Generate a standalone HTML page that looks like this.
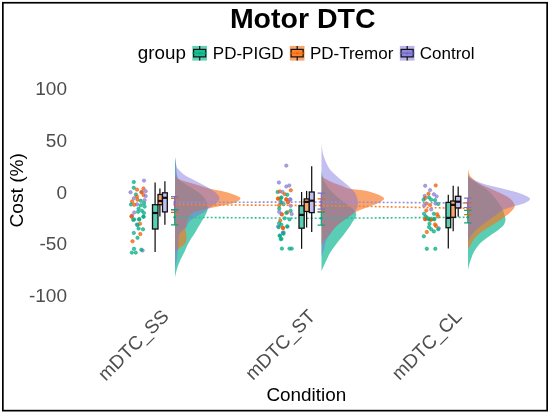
<!DOCTYPE html>
<html><head><meta charset="utf-8"><title>Motor DTC</title>
<style>
html,body{margin:0;padding:0;background:#fff;}
body{width:550px;height:415px;overflow:hidden;}
svg{display:block;font-family:"Liberation Sans",Arial,Helvetica,sans-serif;}
</style></head><body>
<svg width="550" height="415" viewBox="0 0 550 415">
<rect x="0" y="0" width="550" height="415" fill="#ffffff"/>
<rect x="2.85" y="2.75" width="544.3" height="407.9" fill="none" stroke="#000" stroke-width="1.7"/>

<text x="302.7" y="28.1" text-anchor="middle" font-size="28.5" font-weight="bold" fill="#000">Motor DTC</text>
<text x="137.8" y="59" font-size="18.8" fill="#000">group</text>
<g><rect x="192.3" y="45.9" width="14.7" height="14.7" fill="#62D2B6"/><line x1="199.7" y1="45.9" x2="199.7" y2="60.6" stroke="#111" stroke-width="1.2"/><rect x="193.6" y="49.4" width="12.1" height="7.5" fill="#1CBE96" stroke="#111" stroke-width="1.2"/><line x1="192.3" y1="53.2" x2="207.0" y2="53.2" stroke="#0AAA82" stroke-width="1.1"/><circle cx="199.7" cy="53.2" r="1.2" fill="#0AAA82"/></g>
<text x="212.8" y="59" font-size="17" fill="#000">PD-PIGD</text>
<g><rect x="289.8" y="45.9" width="14.7" height="14.7" fill="#FAA56E"/><line x1="297.2" y1="45.9" x2="297.2" y2="60.6" stroke="#111" stroke-width="1.2"/><rect x="291.1" y="49.4" width="12.1" height="7.5" fill="#FA852D" stroke="#111" stroke-width="1.2"/><line x1="289.8" y1="53.2" x2="304.5" y2="53.2" stroke="#F56405" stroke-width="1.1"/><circle cx="297.2" cy="53.2" r="1.2" fill="#F56405"/></g>
<text x="309.9" y="59" font-size="17" fill="#000">PD-Tremor</text>
<g><rect x="399.8" y="45.9" width="14.7" height="14.7" fill="#BAB5EA"/><line x1="407.2" y1="45.9" x2="407.2" y2="60.6" stroke="#111" stroke-width="1.2"/><rect x="401.1" y="49.4" width="12.1" height="7.5" fill="#8E86D8" stroke="#111" stroke-width="1.2"/><line x1="399.8" y1="53.2" x2="414.5" y2="53.2" stroke="#6E66C8" stroke-width="1.1"/><circle cx="407.2" cy="53.2" r="1.2" fill="#6E66C8"/></g>
<text x="419.8" y="59" font-size="17" fill="#000">Control</text>
<text x="67" y="94.8" text-anchor="end" font-size="19" fill="#4D4D4D">100</text>
<text x="67" y="146.8" text-anchor="end" font-size="19" fill="#4D4D4D">50</text>
<text x="67" y="198.5" text-anchor="end" font-size="19" fill="#4D4D4D">0</text>
<text x="67" y="250.4" text-anchor="end" font-size="19" fill="#4D4D4D">-50</text>
<text x="67" y="302.2" text-anchor="end" font-size="19" fill="#4D4D4D">-100</text>
<text transform="translate(23.2,190.3) rotate(-90)" text-anchor="middle" font-size="19.2" fill="#000">Cost (%)</text>
<text x="306.3" y="400.5" text-anchor="middle" font-size="18.9" fill="#000">Condition</text>
<text transform="translate(170.0,317.5) rotate(-45)" text-anchor="end" font-size="19" fill="#4D4D4D">mDTC_SS</text>
<text transform="translate(316.5,317.5) rotate(-45)" text-anchor="end" font-size="19" fill="#4D4D4D">mDTC_ST</text>
<text transform="translate(463.0,317.5) rotate(-45)" text-anchor="end" font-size="19" fill="#4D4D4D">mDTC_CL</text>
<g>
<path d="M175.0 157.0 L175.0 157.0 L175.1 157.8 L175.2 158.5 L175.3 159.2 L175.4 160.0 L175.5 160.8 L175.6 161.5 L175.7 162.2 L175.8 163.0 L175.9 163.8 L176.0 164.5 L176.0 165.2 L176.1 166.0 L176.1 166.8 L176.2 167.5 L176.2 168.2 L176.3 169.0 L176.3 169.8 L176.4 170.5 L176.4 171.2 L176.5 172.0 L176.6 172.8 L176.7 173.5 L176.8 174.2 L176.9 175.0 L177.1 175.8 L177.3 176.5 L177.5 177.2 L177.7 178.0 L178.0 178.8 L178.6 179.5 L179.5 180.2 L180.5 181.0 L181.6 181.8 L182.7 182.5 L183.9 183.2 L185.1 184.0 L186.4 184.8 L187.7 185.5 L188.9 186.2 L190.1 187.0 L191.4 187.8 L192.6 188.5 L193.8 189.2 L195.0 190.0 L196.1 190.8 L197.2 191.5 L198.3 192.2 L199.3 193.0 L200.3 193.8 L201.3 194.5 L202.1 195.2 L202.8 196.0 L203.4 196.8 L204.0 197.5 L204.5 198.2 L205.0 199.0 L205.4 199.8 L205.8 200.5 L206.1 201.2 L206.4 202.0 L206.8 202.8 L207.1 203.5 L207.3 204.2 L207.5 205.0 L207.7 205.8 L207.7 206.5 L207.7 207.2 L207.7 208.0 L207.6 208.8 L207.5 209.5 L207.5 210.2 L207.2 211.0 L206.9 211.8 L206.6 212.5 L206.3 213.2 L205.9 214.0 L205.6 214.8 L205.2 215.5 L204.8 216.2 L204.4 217.0 L203.9 217.8 L203.5 218.5 L203.1 219.2 L202.6 220.0 L202.1 220.8 L201.6 221.5 L201.2 222.2 L200.7 223.0 L200.3 223.8 L199.8 224.5 L199.4 225.2 L198.9 226.0 L198.5 226.8 L198.0 227.5 L197.6 228.2 L197.1 229.0 L196.7 229.8 L196.3 230.5 L195.9 231.2 L195.5 232.0 L195.0 232.8 L194.6 233.5 L194.1 234.2 L193.6 235.0 L193.1 235.8 L192.5 236.5 L192.0 237.2 L191.5 238.0 L191.0 238.8 L190.6 239.5 L190.1 240.2 L189.7 241.0 L189.3 241.8 L188.8 242.5 L188.4 243.2 L188.0 244.0 L187.7 244.8 L187.3 245.5 L187.0 246.2 L186.6 247.0 L186.3 247.8 L186.0 248.5 L185.6 249.2 L185.3 250.0 L185.0 250.8 L184.6 251.5 L184.3 252.2 L183.9 253.0 L183.5 253.8 L183.1 254.5 L182.7 255.2 L182.4 256.0 L182.0 256.8 L181.6 257.5 L181.2 258.2 L180.8 259.0 L180.5 259.8 L180.1 260.5 L179.8 261.2 L179.5 262.0 L179.2 262.8 L178.9 263.5 L178.6 264.2 L178.3 265.0 L178.1 265.8 L177.8 266.5 L177.5 267.2 L177.3 268.0 L177.1 268.8 L176.9 269.5 L176.6 270.2 L176.4 271.0 L176.2 271.8 L176.1 272.5 L175.9 273.2 L175.7 274.0 L175.5 274.8 L175.4 275.5 L175.2 276.2 L175.1 277.0 L175.0 277.5 Z" fill="#00B48C" fill-opacity="0.65"/>
<path d="M175.0 176.0 L175.0 176.0 L175.5 176.8 L176.4 177.5 L177.4 178.2 L178.7 179.0 L180.4 179.8 L182.3 180.5 L184.7 181.2 L187.3 182.0 L189.9 182.8 L192.5 183.5 L195.1 184.2 L197.6 185.0 L200.0 185.8 L202.4 186.5 L204.8 187.2 L207.2 188.0 L209.8 188.8 L213.3 189.5 L217.6 190.2 L221.6 191.0 L224.7 191.8 L227.6 192.5 L230.1 193.2 L232.2 194.0 L234.1 194.8 L236.1 195.5 L237.8 196.2 L239.3 197.0 L240.2 197.8 L240.5 198.5 L240.2 199.2 L239.6 200.0 L238.6 200.8 L237.3 201.5 L235.9 202.2 L234.2 203.0 L231.3 203.8 L227.6 204.5 L223.7 205.2 L220.2 206.0 L216.7 206.8 L213.2 207.5 L209.7 208.2 L206.2 209.0 L203.0 209.8 L200.2 210.5 L197.7 211.2 L195.6 212.0 L193.6 212.8 L192.1 213.5 L191.3 214.2 L190.5 215.0 L190.0 215.8 L189.5 216.5 L189.0 217.2 L188.6 218.0 L188.2 218.8 L187.9 219.5 L187.6 220.2 L187.3 221.0 L187.1 221.8 L186.9 222.5 L186.7 223.2 L186.5 224.0 L186.3 224.8 L186.1 225.5 L185.8 226.2 L185.6 227.0 L185.4 227.8 L185.2 228.5 L185.2 229.2 L185.3 230.0 L185.5 230.8 L185.7 231.5 L185.9 232.2 L186.1 233.0 L186.2 233.8 L186.3 234.5 L186.4 235.2 L186.4 236.0 L186.5 236.8 L186.5 237.5 L186.5 238.2 L186.5 239.0 L186.4 239.8 L186.2 240.5 L186.0 241.2 L185.8 242.0 L185.6 242.8 L185.2 243.5 L184.6 244.2 L183.7 245.0 L182.7 245.8 L181.6 246.5 L180.7 247.2 L179.7 248.0 L178.6 248.8 L177.6 249.5 L176.7 250.2 L175.9 251.0 L175.2 251.8 L175.0 252.0 Z" fill="#F87520" fill-opacity="0.65"/>
<path d="M175.0 157.0 L175.0 157.0 L175.1 157.8 L175.2 158.5 L175.3 159.2 L175.5 160.0 L175.6 160.8 L175.7 161.5 L175.8 162.2 L176.0 163.0 L176.1 163.8 L176.2 164.5 L176.3 165.2 L176.5 166.0 L176.7 166.8 L177.0 167.5 L177.4 168.2 L178.1 169.0 L178.8 169.8 L179.5 170.5 L180.2 171.2 L181.0 172.0 L181.8 172.8 L182.6 173.5 L183.6 174.2 L184.6 175.0 L185.7 175.8 L187.0 176.5 L188.5 177.2 L190.0 178.0 L191.5 178.8 L193.0 179.5 L194.4 180.2 L195.9 181.0 L197.3 181.8 L198.7 182.5 L200.2 183.2 L201.6 184.0 L203.0 184.8 L204.4 185.5 L205.8 186.2 L207.2 187.0 L208.5 187.8 L209.8 188.5 L211.0 189.2 L212.1 190.0 L213.3 190.8 L214.4 191.5 L215.4 192.2 L216.2 193.0 L216.9 193.8 L217.5 194.5 L218.2 195.2 L218.7 196.0 L219.1 196.8 L219.4 197.5 L219.5 198.2 L219.4 199.0 L219.1 199.8 L218.6 200.5 L218.1 201.2 L217.4 202.0 L216.7 202.8 L216.0 203.5 L215.1 204.2 L214.0 205.0 L212.7 205.8 L211.4 206.5 L210.1 207.2 L209.0 208.0 L208.1 208.8 L207.2 209.5 L206.4 210.2 L205.5 211.0 L204.6 211.8 L203.6 212.5 L202.3 213.2 L201.0 214.0 L199.5 214.8 L198.1 215.5 L196.7 216.2 L195.5 217.0 L194.3 217.8 L193.3 218.5 L192.2 219.2 L191.2 220.0 L190.2 220.8 L189.4 221.5 L188.7 222.2 L188.2 223.0 L187.8 223.8 L187.6 224.5 L187.3 225.2 L187.0 226.0 L186.6 226.8 L186.0 227.5 L185.3 228.2 L184.4 229.0 L183.4 229.8 L182.5 230.5 L181.6 231.2 L180.9 232.0 L180.3 232.8 L179.7 233.5 L179.2 234.2 L178.9 235.0 L178.8 235.8 L178.7 236.5 L178.7 237.2 L178.6 238.0 L178.6 238.8 L178.6 239.5 L178.5 240.2 L178.5 241.0 L178.5 241.8 L178.5 242.5 L178.4 243.2 L178.4 244.0 L178.3 244.8 L178.3 245.5 L178.2 246.2 L178.1 247.0 L178.1 247.8 L178.0 248.5 L177.9 249.2 L177.8 250.0 L177.7 250.8 L177.7 251.5 L177.6 252.2 L177.5 253.0 L177.5 253.8 L177.4 254.5 L177.3 255.2 L177.2 256.0 L177.2 256.8 L177.1 257.5 L177.0 258.2 L176.9 259.0 L176.8 259.8 L176.7 260.5 L176.6 261.2 L176.4 262.0 L176.3 262.8 L176.1 263.5 L175.9 264.2 L175.7 265.0 L175.5 265.8 L175.3 266.5 L175.0 267.2 L175.0 267.3 Z" fill="#786EDC" fill-opacity="0.45"/>
</g>
<g>
<path d="M321.5 169.6 L321.5 169.6 L321.5 170.3 L321.6 171.1 L321.7 171.8 L321.8 172.6 L321.9 173.3 L322.0 174.1 L322.2 174.8 L322.4 175.6 L322.6 176.3 L322.8 177.1 L323.0 177.8 L323.2 178.6 L323.4 179.3 L323.7 180.1 L324.1 180.8 L324.4 181.6 L324.8 182.3 L325.2 183.1 L325.7 183.8 L326.1 184.6 L326.6 185.3 L327.1 186.1 L327.6 186.8 L328.1 187.6 L328.7 188.3 L329.4 189.1 L330.0 189.8 L330.7 190.6 L331.4 191.3 L332.1 192.1 L332.9 192.8 L333.6 193.6 L334.4 194.3 L335.2 195.1 L336.0 195.8 L336.9 196.6 L337.8 197.3 L338.7 198.1 L339.6 198.8 L340.5 199.6 L341.4 200.3 L342.4 201.1 L343.4 201.8 L344.4 202.6 L345.4 203.3 L346.5 204.1 L347.5 204.8 L348.5 205.6 L349.5 206.3 L350.5 207.1 L351.6 207.8 L352.6 208.6 L353.4 209.3 L354.1 210.1 L354.6 210.8 L355.1 211.6 L355.6 212.3 L356.0 213.1 L356.2 213.8 L356.2 214.6 L356.1 215.3 L355.9 216.1 L355.7 216.8 L355.3 217.6 L354.9 218.3 L354.5 219.1 L354.0 219.8 L353.5 220.6 L353.0 221.3 L352.5 222.1 L352.0 222.8 L351.6 223.6 L351.1 224.3 L350.7 225.1 L350.2 225.8 L349.7 226.6 L349.2 227.3 L348.7 228.1 L348.1 228.8 L347.6 229.6 L347.0 230.3 L346.5 231.1 L345.9 231.8 L345.4 232.6 L344.8 233.3 L344.2 234.1 L343.7 234.8 L343.1 235.6 L342.5 236.3 L341.9 237.1 L341.3 237.8 L340.7 238.6 L340.0 239.3 L339.4 240.1 L338.8 240.8 L338.2 241.6 L337.6 242.3 L337.1 243.1 L336.5 243.8 L335.9 244.6 L335.4 245.3 L334.8 246.1 L334.3 246.8 L333.7 247.6 L333.2 248.3 L332.6 249.1 L332.1 249.8 L331.6 250.6 L331.1 251.3 L330.6 252.1 L330.2 252.8 L329.7 253.6 L329.3 254.3 L328.9 255.1 L328.5 255.8 L328.2 256.6 L327.8 257.4 L327.4 258.1 L327.1 258.9 L326.7 259.6 L326.4 260.4 L326.0 261.1 L325.7 261.9 L325.3 262.6 L325.0 263.4 L324.6 264.1 L324.3 264.9 L323.9 265.6 L323.6 266.4 L323.2 267.1 L322.9 267.9 L322.6 268.6 L322.2 269.4 L321.9 270.1 L321.6 270.9 L321.5 271.0 Z" fill="#00B48C" fill-opacity="0.65"/>
<path d="M321.5 176.3 L321.5 176.3 L322.5 177.1 L323.6 177.8 L324.8 178.6 L326.1 179.3 L327.5 180.1 L329.0 180.8 L330.5 181.6 L332.1 182.3 L333.9 183.1 L335.9 183.8 L338.0 184.6 L340.1 185.3 L342.1 186.1 L343.9 186.8 L345.5 187.6 L347.5 188.3 L350.6 189.1 L358.2 189.8 L364.4 190.6 L367.9 191.3 L370.7 192.1 L373.0 192.8 L375.2 193.6 L377.2 194.3 L379.1 195.1 L380.7 195.8 L381.9 196.6 L383.1 197.3 L383.9 198.1 L384.2 198.8 L383.8 199.6 L382.9 200.3 L381.9 201.1 L380.8 201.8 L379.5 202.6 L378.0 203.3 L376.3 204.1 L374.3 204.8 L372.3 205.6 L370.2 206.3 L368.1 207.1 L366.1 207.8 L364.1 208.6 L362.0 209.3 L360.1 210.1 L358.4 210.8 L356.9 211.6 L355.4 212.3 L354.1 213.1 L352.8 213.8 L351.6 214.6 L350.5 215.3 L349.5 216.1 L348.4 216.8 L347.4 217.6 L346.4 218.3 L345.4 219.1 L344.4 219.8 L343.3 220.6 L342.3 221.3 L341.3 222.1 L340.3 222.8 L339.3 223.6 L338.4 224.3 L337.6 225.1 L336.8 225.8 L336.0 226.6 L335.3 227.3 L334.6 228.1 L333.9 228.8 L333.3 229.6 L332.7 230.3 L332.1 231.1 L331.5 231.8 L330.9 232.6 L330.4 233.3 L329.8 234.1 L329.1 234.8 L328.5 235.6 L327.9 236.3 L327.3 237.1 L326.7 237.8 L326.1 238.6 L325.5 239.3 L324.9 240.1 L324.3 240.8 L323.8 241.6 L323.2 242.3 L322.7 243.1 L322.2 243.8 L321.8 244.6 L321.5 245.0 Z" fill="#F87520" fill-opacity="0.65"/>
<path d="M321.5 142.6 L321.5 142.6 L321.5 143.3 L321.6 144.1 L321.6 144.8 L321.7 145.6 L321.8 146.3 L321.9 147.1 L322.0 147.8 L322.1 148.6 L322.2 149.3 L322.3 150.1 L322.4 150.8 L322.5 151.6 L322.7 152.3 L322.8 153.1 L323.0 153.8 L323.2 154.6 L323.4 155.3 L323.7 156.1 L323.9 156.8 L324.2 157.6 L324.5 158.3 L324.7 159.1 L325.0 159.8 L325.3 160.6 L325.6 161.3 L325.9 162.1 L326.2 162.8 L326.6 163.6 L326.9 164.3 L327.3 165.1 L327.7 165.8 L328.1 166.6 L328.5 167.3 L329.0 168.1 L329.5 168.8 L330.0 169.6 L330.7 170.3 L331.3 171.1 L332.0 171.8 L332.8 172.6 L333.6 173.3 L334.4 174.1 L335.2 174.8 L336.0 175.6 L336.9 176.3 L337.7 177.1 L338.5 177.8 L339.4 178.6 L340.3 179.3 L341.3 180.1 L342.2 180.8 L343.2 181.6 L344.1 182.3 L345.0 183.1 L345.9 183.8 L346.8 184.6 L347.6 185.3 L348.4 186.1 L349.2 186.8 L350.0 187.6 L350.8 188.3 L351.6 189.1 L352.4 189.8 L353.1 190.6 L353.7 191.3 L354.3 192.1 L354.9 192.8 L355.3 193.6 L355.7 194.3 L356.0 195.1 L356.3 195.8 L356.6 196.6 L356.9 197.3 L357.2 198.1 L357.4 198.8 L357.6 199.6 L357.8 200.3 L357.9 201.1 L358.0 201.8 L358.0 202.6 L358.0 203.3 L357.9 204.1 L357.8 204.8 L357.7 205.6 L357.6 206.3 L357.5 207.1 L357.2 207.8 L356.9 208.6 L356.4 209.3 L355.9 210.1 L355.4 210.8 L354.9 211.6 L354.3 212.3 L353.7 213.1 L353.0 213.8 L352.2 214.6 L351.3 215.3 L350.2 216.1 L349.1 216.8 L348.0 217.6 L346.9 218.3 L345.9 219.1 L344.8 219.8 L343.7 220.6 L342.7 221.3 L341.6 222.1 L340.6 222.8 L339.7 223.6 L338.8 224.3 L337.9 225.1 L337.1 225.8 L336.3 226.6 L335.6 227.3 L334.8 228.1 L334.2 228.8 L333.5 229.6 L332.9 230.3 L332.4 231.1 L331.8 231.8 L331.3 232.6 L330.7 233.3 L330.2 234.1 L329.6 234.8 L329.1 235.6 L328.5 236.3 L328.0 237.1 L327.6 237.8 L327.2 238.6 L326.8 239.3 L326.4 240.1 L326.1 240.8 L325.9 241.6 L325.7 242.3 L325.5 243.1 L325.3 243.8 L325.1 244.6 L324.9 245.3 L324.7 246.1 L324.5 246.8 L324.4 247.6 L324.2 248.3 L324.0 249.1 L323.8 249.8 L323.5 250.6 L323.3 251.3 L323.1 252.1 L322.8 252.8 L322.6 253.6 L322.3 254.3 L322.1 255.1 L321.8 255.8 L321.5 256.6 L321.5 256.7 Z" fill="#786EDC" fill-opacity="0.45"/>
</g>
<g>
<path d="M468.0 175.0 L468.0 175.0 L468.3 175.8 L468.8 176.5 L469.3 177.2 L469.9 178.0 L470.6 178.8 L471.3 179.5 L472.3 180.2 L473.4 181.0 L474.6 181.8 L475.9 182.5 L477.2 183.2 L478.4 184.0 L479.6 184.8 L480.7 185.5 L481.8 186.2 L482.9 187.0 L484.0 187.8 L485.1 188.5 L486.2 189.2 L487.2 190.0 L488.2 190.8 L489.1 191.5 L489.9 192.2 L490.6 193.0 L491.3 193.8 L492.0 194.5 L492.7 195.2 L493.3 196.0 L493.9 196.8 L494.5 197.5 L495.1 198.2 L495.6 199.0 L496.2 199.8 L496.8 200.5 L497.3 201.2 L497.9 202.0 L498.4 202.8 L499.0 203.5 L499.6 204.2 L500.1 205.0 L500.6 205.8 L501.1 206.5 L501.6 207.2 L502.0 208.0 L502.4 208.8 L502.7 209.5 L503.0 210.2 L503.3 211.0 L503.5 211.8 L503.8 212.5 L504.0 213.2 L504.2 214.0 L504.4 214.8 L504.6 215.5 L504.8 216.2 L505.0 217.0 L505.2 217.8 L505.4 218.5 L505.5 219.2 L505.5 220.0 L505.4 220.8 L505.2 221.5 L505.0 222.2 L504.7 223.0 L504.3 223.8 L504.0 224.5 L503.5 225.2 L502.9 226.0 L502.1 226.8 L501.2 227.5 L500.3 228.2 L499.4 229.0 L498.5 229.8 L497.5 230.5 L496.5 231.2 L495.4 232.0 L494.3 232.8 L493.2 233.5 L492.1 234.2 L491.0 235.0 L489.9 235.8 L488.8 236.5 L487.8 237.2 L486.7 238.0 L485.7 238.8 L484.8 239.5 L483.8 240.2 L482.8 241.0 L481.9 241.8 L481.0 242.5 L480.2 243.2 L479.5 244.0 L478.9 244.8 L478.3 245.5 L477.7 246.2 L477.2 247.0 L476.6 247.8 L476.1 248.5 L475.6 249.2 L475.1 250.0 L474.7 250.8 L474.2 251.5 L473.8 252.2 L473.4 253.0 L473.0 253.8 L472.7 254.5 L472.4 255.2 L472.1 256.0 L471.9 256.8 L471.6 257.5 L471.3 258.2 L471.0 259.0 L470.8 259.8 L470.5 260.5 L470.3 261.2 L470.0 262.0 L469.8 262.8 L469.6 263.5 L469.4 264.2 L469.2 265.0 L469.0 265.8 L468.7 266.5 L468.6 267.2 L468.4 268.0 L468.2 268.8 L468.0 269.5 L468.0 269.5 Z" fill="#00B48C" fill-opacity="0.65"/>
<path d="M468.0 167.5 L468.0 167.5 L468.0 168.2 L468.1 169.0 L468.2 169.8 L468.3 170.5 L468.5 171.2 L468.6 172.0 L468.8 172.8 L469.1 173.5 L469.3 174.2 L469.6 175.0 L470.0 175.8 L470.6 176.5 L471.3 177.2 L472.0 178.0 L472.8 178.8 L473.6 179.5 L474.5 180.2 L475.4 181.0 L476.5 181.8 L477.6 182.5 L478.9 183.2 L480.2 184.0 L481.6 184.8 L483.2 185.5 L484.9 186.2 L486.6 187.0 L488.4 187.8 L490.1 188.5 L491.7 189.2 L493.4 190.0 L495.1 190.8 L496.8 191.5 L498.5 192.2 L500.1 193.0 L501.6 193.8 L503.1 194.5 L504.6 195.2 L506.1 196.0 L507.4 196.8 L508.6 197.5 L509.6 198.2 L510.5 199.0 L511.2 199.8 L511.9 200.5 L512.6 201.2 L513.1 202.0 L513.6 202.8 L513.9 203.5 L514.3 204.2 L514.5 205.0 L514.7 205.8 L514.7 206.5 L514.4 207.2 L514.1 208.0 L513.6 208.8 L513.0 209.5 L512.3 210.2 L511.6 211.0 L510.8 211.8 L510.1 212.5 L509.3 213.2 L508.5 214.0 L507.5 214.8 L506.5 215.5 L505.5 216.2 L504.5 217.0 L503.5 217.8 L502.6 218.5 L501.6 219.2 L500.5 220.0 L499.3 220.8 L498.1 221.5 L496.9 222.2 L495.6 223.0 L494.4 223.8 L493.2 224.5 L492.0 225.2 L490.7 226.0 L489.5 226.8 L488.3 227.5 L487.1 228.2 L485.9 229.0 L484.8 229.8 L483.7 230.5 L482.6 231.2 L481.5 232.0 L480.5 232.8 L479.6 233.5 L478.7 234.2 L477.8 235.0 L477.0 235.8 L476.3 236.5 L475.5 237.2 L474.9 238.0 L474.3 238.8 L473.7 239.5 L473.3 240.2 L472.8 241.0 L472.4 241.8 L472.0 242.5 L471.5 243.2 L471.1 244.0 L470.7 244.8 L470.2 245.5 L469.8 246.2 L469.3 247.0 L468.9 247.8 L468.5 248.5 L468.0 249.2 L468.0 249.3 Z" fill="#F87520" fill-opacity="0.65"/>
<path d="M468.0 176.2 L468.0 176.2 L469.0 176.9 L470.1 177.7 L471.3 178.4 L472.7 179.2 L474.1 179.9 L475.6 180.7 L477.3 181.4 L479.2 182.2 L481.1 182.9 L483.3 183.7 L485.7 184.4 L488.5 185.2 L491.6 185.9 L494.8 186.7 L498.1 187.4 L501.2 188.2 L504.2 188.9 L507.1 189.7 L510.1 190.4 L513.1 191.2 L515.8 191.9 L518.3 192.7 L520.4 193.4 L522.2 194.2 L524.1 194.9 L525.8 195.7 L527.4 196.4 L528.7 197.2 L529.6 197.9 L530.1 198.7 L530.0 199.4 L529.4 200.2 L528.5 200.9 L527.3 201.7 L525.9 202.4 L524.4 203.2 L522.4 203.9 L519.6 204.7 L516.7 205.4 L514.0 206.2 L511.5 206.9 L509.0 207.7 L506.6 208.4 L504.5 209.2 L502.9 209.9 L501.6 210.7 L500.5 211.4 L499.5 212.2 L498.5 212.9 L497.6 213.7 L496.6 214.4 L495.6 215.2 L494.5 215.9 L493.5 216.7 L492.5 217.4 L491.5 218.2 L490.5 218.9 L489.4 219.7 L488.4 220.4 L487.3 221.2 L486.2 221.9 L485.1 222.7 L484.0 223.4 L483.0 224.2 L482.1 224.9 L481.1 225.7 L480.2 226.4 L479.3 227.2 L478.5 227.9 L477.6 228.7 L476.8 229.4 L476.0 230.2 L475.1 230.9 L474.3 231.7 L473.6 232.4 L472.9 233.2 L472.3 233.9 L471.7 234.7 L471.2 235.4 L470.7 236.2 L470.3 236.9 L469.9 237.7 L469.5 238.4 L469.2 239.2 L468.9 239.9 L468.6 240.7 L468.3 241.4 L468.1 242.2 L468.0 242.6 Z" fill="#786EDC" fill-opacity="0.45"/>
</g>
<g fill-opacity="0.72" stroke-opacity="0.7" stroke-width="0.8">
<circle cx="133.8" cy="182.0" r="1.7" fill="#00AA82" stroke="#00AA82"/>
<circle cx="144.0" cy="180.6" r="1.7" fill="#887CD2" stroke="#887CD2"/>
<circle cx="133.8" cy="187.8" r="1.7" fill="#00AA82" stroke="#00AA82"/>
<circle cx="137.0" cy="189.6" r="1.7" fill="#F35A00" stroke="#F35A00"/>
<circle cx="143.5" cy="188.5" r="1.7" fill="#F35A00" stroke="#F35A00"/>
<circle cx="130.5" cy="192.3" r="1.7" fill="#887CD2" stroke="#887CD2"/>
<circle cx="141.9" cy="191.8" r="1.7" fill="#887CD2" stroke="#887CD2"/>
<circle cx="145.7" cy="191.3" r="1.7" fill="#887CD2" stroke="#887CD2"/>
<circle cx="141.3" cy="192.3" r="1.7" fill="#F35A00" stroke="#F35A00"/>
<circle cx="135.9" cy="194.5" r="1.7" fill="#00AA82" stroke="#00AA82"/>
<circle cx="143.5" cy="195.0" r="1.7" fill="#F35A00" stroke="#F35A00"/>
<circle cx="145.7" cy="196.1" r="1.7" fill="#887CD2" stroke="#887CD2"/>
<circle cx="137.0" cy="196.7" r="1.7" fill="#F35A00" stroke="#F35A00"/>
<circle cx="133.8" cy="198.3" r="1.7" fill="#887CD2" stroke="#887CD2"/>
<circle cx="137.5" cy="199.7" r="1.7" fill="#F35A00" stroke="#F35A00"/>
<circle cx="140.8" cy="200.8" r="1.7" fill="#00AA82" stroke="#00AA82"/>
<circle cx="132.1" cy="201.5" r="1.7" fill="#F35A00" stroke="#F35A00"/>
<circle cx="144.6" cy="200.1" r="1.7" fill="#887CD2" stroke="#887CD2"/>
<circle cx="144.0" cy="203.2" r="1.7" fill="#00AA82" stroke="#00AA82"/>
<circle cx="131.0" cy="204.5" r="1.7" fill="#00AA82" stroke="#00AA82"/>
<circle cx="137.0" cy="204.3" r="1.7" fill="#887CD2" stroke="#887CD2"/>
<circle cx="134.3" cy="204.8" r="1.7" fill="#F35A00" stroke="#F35A00"/>
<circle cx="140.8" cy="205.3" r="1.7" fill="#00AA82" stroke="#00AA82"/>
<circle cx="144.6" cy="206.6" r="1.7" fill="#00AA82" stroke="#00AA82"/>
<circle cx="138.6" cy="208.6" r="1.7" fill="#00AA82" stroke="#00AA82"/>
<circle cx="141.9" cy="210.8" r="1.7" fill="#00AA82" stroke="#00AA82"/>
<circle cx="134.3" cy="212.4" r="1.7" fill="#887CD2" stroke="#887CD2"/>
<circle cx="138.1" cy="211.8" r="1.7" fill="#00AA82" stroke="#00AA82"/>
<circle cx="144.0" cy="212.9" r="1.7" fill="#00AA82" stroke="#00AA82"/>
<circle cx="131.6" cy="216.7" r="1.7" fill="#F35A00" stroke="#F35A00"/>
<circle cx="143.5" cy="216.7" r="1.7" fill="#00AA82" stroke="#00AA82"/>
<circle cx="139.2" cy="218.9" r="1.7" fill="#00AA82" stroke="#00AA82"/>
<circle cx="134.3" cy="219.4" r="1.7" fill="#00AA82" stroke="#00AA82"/>
<circle cx="132.1" cy="215.5" r="1.7" fill="#887CD2" stroke="#887CD2"/>
<circle cx="131.6" cy="216.3" r="1.7" fill="#F35A00" stroke="#F35A00"/>
<circle cx="143.5" cy="216.6" r="1.7" fill="#00AA82" stroke="#00AA82"/>
<circle cx="133.2" cy="219.9" r="1.7" fill="#00AA82" stroke="#00AA82"/>
<circle cx="139.2" cy="219.6" r="1.7" fill="#00AA82" stroke="#00AA82"/>
<circle cx="140.0" cy="223.7" r="1.7" fill="#F35A00" stroke="#F35A00"/>
<circle cx="136.8" cy="224.5" r="1.7" fill="#887CD2" stroke="#887CD2"/>
<circle cx="137.5" cy="225.0" r="1.7" fill="#00AA82" stroke="#00AA82"/>
<circle cx="138.6" cy="228.5" r="1.7" fill="#00AA82" stroke="#00AA82"/>
<circle cx="143.0" cy="229.3" r="1.7" fill="#00AA82" stroke="#00AA82"/>
<circle cx="133.8" cy="232.9" r="1.7" fill="#00AA82" stroke="#00AA82"/>
<circle cx="140.3" cy="234.0" r="1.7" fill="#F35A00" stroke="#F35A00"/>
<circle cx="137.5" cy="237.8" r="1.7" fill="#00AA82" stroke="#00AA82"/>
<circle cx="132.5" cy="241.3" r="1.7" fill="#F35A00" stroke="#F35A00"/>
<circle cx="134.0" cy="248.8" r="1.7" fill="#00AA82" stroke="#00AA82"/>
<circle cx="131.8" cy="252.6" r="1.7" fill="#00AA82" stroke="#00AA82"/>
<circle cx="135.7" cy="252.6" r="1.7" fill="#00AA82" stroke="#00AA82"/>
<circle cx="142.6" cy="250.5" r="1.7" fill="#887CD2" stroke="#887CD2"/>
<circle cx="141.3" cy="249.7" r="1.7" fill="#00AA82" stroke="#00AA82"/>
<circle cx="286.3" cy="165.6" r="1.7" fill="#887CD2" stroke="#887CD2"/>
<circle cx="278.9" cy="182.5" r="1.7" fill="#887CD2" stroke="#887CD2"/>
<circle cx="286.3" cy="186.5" r="1.7" fill="#887CD2" stroke="#887CD2"/>
<circle cx="289.3" cy="185.5" r="1.7" fill="#887CD2" stroke="#887CD2"/>
<circle cx="290.8" cy="190.3" r="1.7" fill="#F35A00" stroke="#F35A00"/>
<circle cx="277.6" cy="192.0" r="1.7" fill="#00AA82" stroke="#00AA82"/>
<circle cx="279.8" cy="191.4" r="1.7" fill="#F35A00" stroke="#F35A00"/>
<circle cx="282.5" cy="192.0" r="1.7" fill="#887CD2" stroke="#887CD2"/>
<circle cx="284.6" cy="194.1" r="1.7" fill="#F35A00" stroke="#F35A00"/>
<circle cx="287.3" cy="194.7" r="1.7" fill="#00AA82" stroke="#00AA82"/>
<circle cx="281.4" cy="197.4" r="1.7" fill="#00AA82" stroke="#00AA82"/>
<circle cx="278.1" cy="198.5" r="1.7" fill="#F35A00" stroke="#F35A00"/>
<circle cx="286.3" cy="199.5" r="1.7" fill="#F35A00" stroke="#F35A00"/>
<circle cx="290.4" cy="199.5" r="1.7" fill="#887CD2" stroke="#887CD2"/>
<circle cx="280.8" cy="201.7" r="1.7" fill="#00AA82" stroke="#00AA82"/>
<circle cx="287.9" cy="202.3" r="1.7" fill="#F35A00" stroke="#F35A00"/>
<circle cx="280.8" cy="198.3" r="1.7" fill="#00AA82" stroke="#00AA82"/>
<circle cx="278.1" cy="198.8" r="1.7" fill="#F35A00" stroke="#F35A00"/>
<circle cx="286.3" cy="199.3" r="1.7" fill="#F35A00" stroke="#F35A00"/>
<circle cx="290.0" cy="199.3" r="1.7" fill="#887CD2" stroke="#887CD2"/>
<circle cx="280.8" cy="202.6" r="1.7" fill="#00AA82" stroke="#00AA82"/>
<circle cx="287.9" cy="202.0" r="1.7" fill="#F35A00" stroke="#F35A00"/>
<circle cx="283.5" cy="204.2" r="1.7" fill="#00AA82" stroke="#00AA82"/>
<circle cx="290.6" cy="205.8" r="1.7" fill="#887CD2" stroke="#887CD2"/>
<circle cx="279.2" cy="205.3" r="1.7" fill="#F35A00" stroke="#F35A00"/>
<circle cx="279.2" cy="208.5" r="1.7" fill="#00AA82" stroke="#00AA82"/>
<circle cx="290.6" cy="210.7" r="1.7" fill="#00AA82" stroke="#00AA82"/>
<circle cx="279.2" cy="211.8" r="1.7" fill="#887CD2" stroke="#887CD2"/>
<circle cx="287.3" cy="212.3" r="1.7" fill="#F35A00" stroke="#F35A00"/>
<circle cx="286.3" cy="212.9" r="1.7" fill="#00AA82" stroke="#00AA82"/>
<circle cx="291.7" cy="214.0" r="1.7" fill="#887CD2" stroke="#887CD2"/>
<circle cx="281.4" cy="214.0" r="1.7" fill="#887CD2" stroke="#887CD2"/>
<circle cx="281.9" cy="214.5" r="1.7" fill="#F35A00" stroke="#F35A00"/>
<circle cx="284.6" cy="218.3" r="1.7" fill="#00AA82" stroke="#00AA82"/>
<circle cx="289.5" cy="219.4" r="1.7" fill="#00AA82" stroke="#00AA82"/>
<circle cx="280.3" cy="220.5" r="1.7" fill="#F35A00" stroke="#F35A00"/>
<circle cx="279.2" cy="223.2" r="1.7" fill="#00AA82" stroke="#00AA82"/>
<circle cx="281.4" cy="224.8" r="1.7" fill="#00AA82" stroke="#00AA82"/>
<circle cx="278.1" cy="226.4" r="1.7" fill="#887CD2" stroke="#887CD2"/>
<circle cx="287.3" cy="226.4" r="1.7" fill="#00AA82" stroke="#00AA82"/>
<circle cx="283.0" cy="228.0" r="1.7" fill="#F35A00" stroke="#F35A00"/>
<circle cx="283.5" cy="232.4" r="1.7" fill="#887CD2" stroke="#887CD2"/>
<circle cx="283.0" cy="232.9" r="1.7" fill="#00AA82" stroke="#00AA82"/>
<circle cx="279.8" cy="235.6" r="1.7" fill="#00AA82" stroke="#00AA82"/>
<circle cx="281.4" cy="238.9" r="1.7" fill="#00AA82" stroke="#00AA82"/>
<circle cx="287.3" cy="226.6" r="1.7" fill="#00AA82" stroke="#00AA82"/>
<circle cx="283.0" cy="228.0" r="1.7" fill="#F35A00" stroke="#F35A00"/>
<circle cx="278.7" cy="227.2" r="1.7" fill="#00AA82" stroke="#00AA82"/>
<circle cx="283.0" cy="232.6" r="1.7" fill="#887CD2" stroke="#887CD2"/>
<circle cx="283.5" cy="233.7" r="1.7" fill="#00AA82" stroke="#00AA82"/>
<circle cx="279.8" cy="235.8" r="1.7" fill="#00AA82" stroke="#00AA82"/>
<circle cx="280.8" cy="239.1" r="1.7" fill="#00AA82" stroke="#00AA82"/>
<circle cx="281.9" cy="248.6" r="1.7" fill="#00AA82" stroke="#00AA82"/>
<circle cx="289.5" cy="248.6" r="1.7" fill="#00AA82" stroke="#00AA82"/>
<circle cx="291.7" cy="248.6" r="1.7" fill="#00AA82" stroke="#00AA82"/>
<circle cx="425.2" cy="185.8" r="1.7" fill="#887CD2" stroke="#887CD2"/>
<circle cx="435.7" cy="185.4" r="1.7" fill="#F35A00" stroke="#F35A00"/>
<circle cx="430.1" cy="190.1" r="1.7" fill="#887CD2" stroke="#887CD2"/>
<circle cx="428.5" cy="193.7" r="1.7" fill="#F35A00" stroke="#F35A00"/>
<circle cx="433.9" cy="194.3" r="1.7" fill="#887CD2" stroke="#887CD2"/>
<circle cx="424.7" cy="195.9" r="1.7" fill="#887CD2" stroke="#887CD2"/>
<circle cx="436.6" cy="196.4" r="1.7" fill="#887CD2" stroke="#887CD2"/>
<circle cx="425.2" cy="198.0" r="1.7" fill="#F35A00" stroke="#F35A00"/>
<circle cx="429.0" cy="197.5" r="1.7" fill="#00AA82" stroke="#00AA82"/>
<circle cx="423.6" cy="199.7" r="1.7" fill="#00AA82" stroke="#00AA82"/>
<circle cx="431.2" cy="199.7" r="1.7" fill="#00AA82" stroke="#00AA82"/>
<circle cx="435.0" cy="200.2" r="1.7" fill="#00AA82" stroke="#00AA82"/>
<circle cx="426.3" cy="203.5" r="1.7" fill="#F35A00" stroke="#F35A00"/>
<circle cx="438.2" cy="204.0" r="1.7" fill="#00AA82" stroke="#00AA82"/>
<circle cx="435.5" cy="203.5" r="1.7" fill="#887CD2" stroke="#887CD2"/>
<circle cx="430.1" cy="205.1" r="1.7" fill="#F35A00" stroke="#F35A00"/>
<circle cx="424.1" cy="205.6" r="1.7" fill="#887CD2" stroke="#887CD2"/>
<circle cx="431.2" cy="209.4" r="1.7" fill="#887CD2" stroke="#887CD2"/>
<circle cx="426.3" cy="210.5" r="1.7" fill="#F35A00" stroke="#F35A00"/>
<circle cx="424.1" cy="213.8" r="1.7" fill="#00AA82" stroke="#00AA82"/>
<circle cx="433.9" cy="213.8" r="1.7" fill="#00AA82" stroke="#00AA82"/>
<circle cx="437.1" cy="214.3" r="1.7" fill="#F35A00" stroke="#F35A00"/>
<circle cx="425.8" cy="216.5" r="1.7" fill="#00AA82" stroke="#00AA82"/>
<circle cx="438.2" cy="216.5" r="1.7" fill="#F35A00" stroke="#F35A00"/>
<circle cx="425.2" cy="219.2" r="1.7" fill="#F35A00" stroke="#F35A00"/>
<circle cx="429.0" cy="218.6" r="1.7" fill="#00AA82" stroke="#00AA82"/>
<circle cx="433.9" cy="219.2" r="1.7" fill="#00AA82" stroke="#00AA82"/>
<circle cx="431.2" cy="219.7" r="1.7" fill="#F35A00" stroke="#F35A00"/>
<circle cx="426.8" cy="217.9" r="1.7" fill="#00AA82" stroke="#00AA82"/>
<circle cx="425.2" cy="219.0" r="1.7" fill="#F35A00" stroke="#F35A00"/>
<circle cx="434.4" cy="219.0" r="1.7" fill="#00AA82" stroke="#00AA82"/>
<circle cx="430.6" cy="219.5" r="1.7" fill="#F35A00" stroke="#F35A00"/>
<circle cx="429.0" cy="219.5" r="1.7" fill="#00AA82" stroke="#00AA82"/>
<circle cx="429.5" cy="223.8" r="1.7" fill="#00AA82" stroke="#00AA82"/>
<circle cx="435.0" cy="224.4" r="1.7" fill="#F35A00" stroke="#F35A00"/>
<circle cx="429.0" cy="227.1" r="1.7" fill="#00AA82" stroke="#00AA82"/>
<circle cx="436.0" cy="226.0" r="1.7" fill="#F35A00" stroke="#F35A00"/>
<circle cx="431.2" cy="229.3" r="1.7" fill="#00AA82" stroke="#00AA82"/>
<circle cx="438.8" cy="228.2" r="1.7" fill="#887CD2" stroke="#887CD2"/>
<circle cx="438.2" cy="229.3" r="1.7" fill="#00AA82" stroke="#00AA82"/>
<circle cx="433.9" cy="231.4" r="1.7" fill="#00AA82" stroke="#00AA82"/>
<circle cx="426.8" cy="232.0" r="1.7" fill="#F35A00" stroke="#F35A00"/>
<circle cx="423.8" cy="236.3" r="1.7" fill="#00AA82" stroke="#00AA82"/>
<circle cx="426.8" cy="248.8" r="1.7" fill="#00AA82" stroke="#00AA82"/>
<circle cx="435.3" cy="248.8" r="1.7" fill="#00AA82" stroke="#00AA82"/>
</g>
<polyline points="174.7,202.4 321.3,202.0 467.8,203.0" fill="none" stroke="#968CD7" stroke-width="1.6" stroke-dasharray="1.9 2.1"/>
<polyline points="174.7,204.7 321.3,205.5 467.8,208.4" fill="none" stroke="#F5822D" stroke-width="1.6" stroke-dasharray="1.9 2.1"/>
<polyline points="174.7,217.3 321.3,218.3 467.8,217.3" fill="none" stroke="#2DBE96" stroke-width="1.6" stroke-dasharray="1.9 2.1"/>
<line x1="155.1" y1="182.6" x2="155.1" y2="252.0" stroke="#111" stroke-width="1.25"/>
<rect x="152.5" y="204.7" width="5.5" height="24.3" fill="#fff"/>
<rect x="152.5" y="204.7" width="5.5" height="24.3" fill="#00B48C" fill-opacity="0.65" stroke="#111" stroke-width="1.3"/>
<line x1="152.5" y1="213.0" x2="158.0" y2="213.0" stroke="#111" stroke-width="2.2"/>
<line x1="159.9" y1="188.4" x2="159.9" y2="216.6" stroke="#111" stroke-width="1.25"/>
<rect x="158.0" y="194.5" width="4.5" height="10.2" fill="#fff"/>
<rect x="158.0" y="194.5" width="4.5" height="10.2" fill="#F87520" fill-opacity="0.65" stroke="#111" stroke-width="1.3"/>
<line x1="158.0" y1="201.0" x2="162.5" y2="201.0" stroke="#111" stroke-width="2.2"/>
<line x1="164.9" y1="181.3" x2="164.9" y2="224.7" stroke="#111" stroke-width="1.25"/>
<rect x="162.5" y="192.8" width="4.8" height="19.1" fill="#fff"/>
<rect x="162.5" y="192.8" width="4.8" height="19.1" fill="#786EDC" fill-opacity="0.45" stroke="#111" stroke-width="1.3"/>
<line x1="162.5" y1="197.8" x2="167.3" y2="197.8" stroke="#111" stroke-width="2.2"/>
<line x1="301.6" y1="192.0" x2="301.6" y2="248.8" stroke="#111" stroke-width="1.25"/>
<rect x="299.0" y="205.8" width="5.2" height="22.4" fill="#fff"/>
<rect x="299.0" y="205.8" width="5.2" height="22.4" fill="#00B48C" fill-opacity="0.65" stroke="#111" stroke-width="1.3"/>
<line x1="299.0" y1="214.9" x2="304.2" y2="214.9" stroke="#111" stroke-width="2.2"/>
<line x1="306.6" y1="190.9" x2="306.6" y2="227.5" stroke="#111" stroke-width="1.25"/>
<rect x="304.2" y="198.9" width="5.1" height="12.6" fill="#fff"/>
<rect x="304.2" y="198.9" width="5.1" height="12.6" fill="#F87520" fill-opacity="0.65" stroke="#111" stroke-width="1.3"/>
<line x1="304.2" y1="201.9" x2="309.3" y2="201.9" stroke="#111" stroke-width="2.2"/>
<line x1="311.7" y1="166.2" x2="311.7" y2="232.1" stroke="#111" stroke-width="1.25"/>
<rect x="309.3" y="192.0" width="4.9" height="20.6" fill="#fff"/>
<rect x="309.3" y="192.0" width="4.9" height="20.6" fill="#786EDC" fill-opacity="0.45" stroke="#111" stroke-width="1.3"/>
<line x1="309.3" y1="200.7" x2="314.2" y2="200.7" stroke="#111" stroke-width="2.2"/>
<line x1="448.3" y1="194.7" x2="448.3" y2="248.5" stroke="#111" stroke-width="1.25"/>
<rect x="446.0" y="202.4" width="4.7" height="25.3" fill="#fff"/>
<rect x="446.0" y="202.4" width="4.7" height="25.3" fill="#00B48C" fill-opacity="0.65" stroke="#111" stroke-width="1.3"/>
<line x1="446.0" y1="217.9" x2="450.7" y2="217.9" stroke="#111" stroke-width="2.2"/>
<line x1="453.2" y1="185.7" x2="453.2" y2="231.3" stroke="#111" stroke-width="1.25"/>
<rect x="450.7" y="201.0" width="4.7" height="16.3" fill="#fff"/>
<rect x="450.7" y="201.0" width="4.7" height="16.3" fill="#F87520" fill-opacity="0.65" stroke="#111" stroke-width="1.3"/>
<line x1="450.7" y1="204.9" x2="455.4" y2="204.9" stroke="#111" stroke-width="2.2"/>
<line x1="458.2" y1="186.4" x2="458.2" y2="216.7" stroke="#111" stroke-width="1.25"/>
<rect x="455.4" y="196.3" width="5.4" height="11.6" fill="#fff"/>
<rect x="455.4" y="196.3" width="5.4" height="11.6" fill="#786EDC" fill-opacity="0.45" stroke="#111" stroke-width="1.3"/>
<line x1="455.4" y1="201.7" x2="460.8" y2="201.7" stroke="#111" stroke-width="2.2"/>
<path d="M171.0 198.3 H178.4 M171.0 212.3 H178.4 M174.7 198.3 V212.3" stroke="#EB640A" stroke-width="1.2" fill="none"/>
<circle cx="174.7" cy="204.7" r="1.3" fill="#EB640A"/>
<path d="M171.0 196.6 H178.4 M171.0 210.0 H178.4 M174.7 196.6 V210.0" stroke="#7A70C4" stroke-width="1.2" fill="none"/>
<circle cx="174.7" cy="202.4" r="1.3" fill="#7A70C4"/>
<path d="M171.0 209.7 H178.4 M171.0 224.9 H178.4 M174.7 209.7 V224.9" stroke="#0FA37C" stroke-width="1.2" fill="none"/>
<circle cx="174.7" cy="217.3" r="1.3" fill="#0FA37C"/>
<path d="M317.6 198.9 H325.0 M317.6 211.5 H325.0 M321.3 198.9 V211.5" stroke="#EB640A" stroke-width="1.2" fill="none"/>
<circle cx="321.3" cy="205.5" r="1.3" fill="#EB640A"/>
<path d="M317.6 193.2 H325.0 M317.6 209.2 H325.0 M321.3 193.2 V209.2" stroke="#7A70C4" stroke-width="1.2" fill="none"/>
<circle cx="321.3" cy="202.0" r="1.3" fill="#7A70C4"/>
<path d="M317.6 212.2 H325.0 M317.6 225.2 H325.0 M321.3 212.2 V225.2" stroke="#0FA37C" stroke-width="1.2" fill="none"/>
<circle cx="321.3" cy="218.3" r="1.3" fill="#0FA37C"/>
<path d="M464.1 202.8 H471.5 M464.1 214.7 H471.5 M467.8 202.8 V214.7" stroke="#EB640A" stroke-width="1.2" fill="none"/>
<circle cx="467.8" cy="208.4" r="1.3" fill="#EB640A"/>
<path d="M464.1 198.1 H471.5 M464.1 207.5 H471.5 M467.8 198.1 V207.5" stroke="#7A70C4" stroke-width="1.2" fill="none"/>
<circle cx="467.8" cy="203.0" r="1.3" fill="#7A70C4"/>
<path d="M464.1 210.3 H471.5 M464.1 222.9 H471.5 M467.8 210.3 V222.9" stroke="#0FA37C" stroke-width="1.2" fill="none"/>
<circle cx="467.8" cy="217.3" r="1.3" fill="#0FA37C"/>
</svg></body></html>
